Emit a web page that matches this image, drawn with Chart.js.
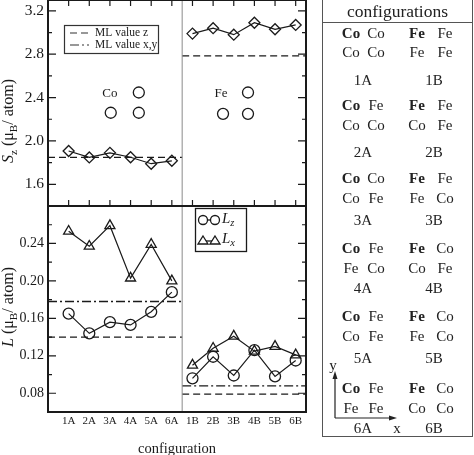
<!DOCTYPE html>
<html>
<head>
<meta charset="utf-8">
<script src="https://cdn.jsdelivr.net/npm/chart.js@4.4.0/dist/chart.umd.min.js"></script>
<style>
  body { margin: 0; background: #fff; }
  #wrap { position: relative; width: 474px; height: 455px; overflow: hidden; font-family: 'Liberation Serif', 'Times New Roman', serif; color: #222; }
  #wrap canvas { position: absolute; left: 0; }
  #top { top: -20px; }
  #bot { top: 0; }
  #cfg { position: absolute; left: 322px; top: -2px; width: 151px; height: 439px; border: 1.5px solid #555; box-sizing: border-box; }
  #cfg .hd { position: absolute; left: 0; right: 0; top: 0; height: 23px; border-bottom: 1.5px solid #555; text-align: center; font-size: 17.5px; line-height: 25px; }
  #cfg span { position: absolute; font-size: 15px; transform: translate(-50%, -50%); white-space: nowrap; }
  #cfg b { font-weight: bold; }
</style>
</head>
<body>
<div id="wrap">
  <canvas id="top" width="320" height="475"></canvas>
  <canvas id="bot" width="320" height="455"></canvas>
  <div id="cfg"><div class="hd">configurations</div></div>
</div>
<script>
// x positions of the configurations, 1A..6A then 1B..6B
const catLabels = ['1A', '2A', '3A', '4A', '5A', '6A', '1B', '2B', '3B', '4B', '5B', '6B'];
const coPos = [1, 2, 3, 4, 5, 6];
const fePos = [7, 8, 9, 10, 11, 12];
const coSpan = [0, 6.5];
const feSpan = [6.5, 12.5];

// spin moment S_z
const szCo = [1.907, 1.848, 1.890, 1.850, 1.790, 1.817];
const szFe = [2.990, 3.040, 2.980, 3.090, 3.030, 3.070];
const szMLz = [1.848, 2.785];   // Co, Fe monolayer
const szTicks = [1.6, 2.0, 2.4, 2.8, 3.2];

// orbital moment L
const lzCo = [0.165, 0.144, 0.156, 0.153, 0.167, 0.188];
const lxCo = [0.253, 0.237, 0.259, 0.203, 0.239, 0.200];
const lzFe = [0.096, 0.119, 0.099, 0.126, 0.098, 0.115];
const lxFe = [0.110, 0.128, 0.141, 0.125, 0.130, 0.121];
const lMLz = [0.140, 0.079];
const lMLxy = [0.178, 0.088];
const lTicks = [0.08, 0.12, 0.16, 0.20, 0.24];

// little site pictograms in the upper panel
const coSiteX = [4.40, 3.04, 4.40];
const coSiteY = [2.447, 2.26, 2.26];
const feSiteX = [9.69, 8.48, 9.69];
const feSiteY = [2.447, 2.25, 2.25];

// configuration table
const cfgA = [['Co','Co','Co','Co'], ['Co','Fe','Co','Co'], ['Co','Co','Co','Fe'], ['Co','Fe','Fe','Co'], ['Co','Fe','Co','Fe'], ['Co','Fe','Fe','Fe']];
const cfgB = [['Fe','Fe','Fe','Fe'], ['Fe','Fe','Co','Fe'], ['Fe','Fe','Fe','Co'], ['Fe','Co','Co','Fe'], ['Fe','Co','Fe','Co'], ['Fe','Co','Co','Co']];

const FONT = "'Liberation Serif', 'Times New Roman', serif";
const INK = '#1a1a1a';

function pts(xs, ys) { return xs.map((x, i) => ({ x: x, y: ys[i] })); }
function hline(span, v) { return span.map(x => ({ x: x, y: v })); }

function series(xs, ys, style, r) {
  return {
    data: pts(xs, ys), borderColor: INK, borderWidth: 1.2, pointStyle: style, pointRadius: r,
    pointBorderColor: INK, pointBackgroundColor: 'rgba(255,255,255,0)', pointBorderWidth: 1.3, tension: 0
  };
}
function mlLine(span, v, dash) {
  return { data: hline(span, v), borderColor: INK, borderWidth: 1.3, borderDash: dash, pointRadius: 0 };
}
const DASH = [7, 4];
const DASHDOT = [9, 3, 2, 3];

// rich text: parts [{t, it, sub}]
function richWidth(ctx, parts, size) {
  let w = 0;
  parts.forEach(p => {
    ctx.font = (p.it ? 'italic ' : '') + (p.sub ? size * 0.7 : size) + 'px ' + FONT;
    w += ctx.measureText(p.t).width;
  });
  return w;
}
function drawRich(ctx, parts, x, y, size) {
  let cx = x;
  parts.forEach(p => {
    const s = p.sub ? size * 0.7 : size;
    ctx.font = (p.it ? 'italic ' : '') + s + 'px ' + FONT;
    ctx.fillText(p.t, cx, y + (p.sub ? size * 0.3 : 0));
    cx += ctx.measureText(p.t).width;
  });
}

// frame, inward ticks, divider and extra text drawn on top of each panel
const panelPlugin = {
  id: 'panel',
  afterDatasetsDraw(chart, args, opts) {
    const { ctx, chartArea: a, scales: { x, y } } = chart;
    ctx.save();
    // divider between Co and Fe halves
    ctx.strokeStyle = '#8a8a8a';
    ctx.lineWidth = 1;
    const dx = x.getPixelForValue(coSpan[1]);
    ctx.beginPath(); ctx.moveTo(dx, a.top); ctx.lineTo(dx, a.bottom); ctx.stroke();

    ctx.strokeStyle = INK;
    ctx.lineWidth = 1.2;
    ctx.beginPath();
    const major = opts.ticks;
    const step = major[1] - major[0];
    const minor = [major[0] - step / 2].concat(major.map(v => v + step / 2));
    major.forEach(v => {
      const py = y.getPixelForValue(v);
      ctx.moveTo(a.left, py); ctx.lineTo(a.left + 8, py);
      ctx.moveTo(a.right, py); ctx.lineTo(a.right - 8, py);
    });
    minor.forEach(v => {
      if (v <= y.min || v >= y.max) return;
      const py = y.getPixelForValue(v);
      ctx.moveTo(a.left, py); ctx.lineTo(a.left + 4, py);
      ctx.moveTo(a.right, py); ctx.lineTo(a.right - 4, py);
    });
    if (opts.catTicks) {
      coPos.concat(fePos).forEach(v => {
        const px = x.getPixelForValue(v);
        ctx.moveTo(px, a.top); ctx.lineTo(px, a.top + 6);
        ctx.moveTo(px, a.bottom); ctx.lineTo(px, a.bottom - 6);
      });
    }
    ctx.stroke();
    ctx.lineWidth = 2;
    ctx.strokeRect(a.left, a.top, a.right - a.left, a.bottom - a.top);

    // y title, rotated
    ctx.fillStyle = INK;
    ctx.textBaseline = 'middle';
    ctx.textAlign = 'left';
    const w = richWidth(ctx, opts.title, 16);
    ctx.translate(opts.titleX, opts.titleY);
    ctx.rotate(-Math.PI / 2);
    drawRich(ctx, opts.title, -w / 2, 0, 16);
    ctx.restore();

    if (opts.extra) opts.extra(chart);
  }
};

function baseOptions(yMin, yMax, ticks, tickSize, padTop, padBottom, showX) {
  return {
    responsive: false, animation: false, events: [],
    layout: { padding: { left: 0, right: 14, top: padTop, bottom: padBottom } },
    plugins: { legend: { display: false }, tooltip: { enabled: false } },
    scales: {
      x: {
        type: 'linear', min: 0, max: 12.5, display: showX,
        afterBuildTicks: s => { s.ticks = coPos.concat(fePos).map(v => ({ value: v })); },
        afterFit: s => { if (showX) s.height = 43; },
        ticks: { callback: v => catLabels[v - 1], font: { family: FONT, size: 11 }, color: INK, padding: 3, maxRotation: 0, autoSkip: false },
        grid: { display: false, drawTicks: false }, border: { display: false },
        title: { display: true, text: 'configuration', font: { family: FONT, size: 14.5 }, color: INK, padding: { top: 0, bottom: -3 } }
      },
      y: {
        min: yMin, max: yMax,
        afterBuildTicks: s => { s.ticks = ticks.map(v => ({ value: v })); },
        afterFit: s => { s.width = 48; },
        ticks: { font: { family: FONT, size: tickSize }, color: INK, padding: 4, callback: v => v.toFixed(ticks[0] < 1 ? 2 : 1) },
        grid: { display: false, drawTicks: false }, border: { display: false }
      }
    }
  };
}

// ---------- upper panel: S_z (canvas shifted up 20px) ----------
const OFF = 20;
const topOpts = baseOptions(1.4, 3.3, szTicks, 15.5, OFF, 475 - 206 - OFF, false);
topOpts.plugins.panel = {
  ticks: szTicks, catTicks: true, titleX: 9, titleY: 121 + OFF,
  title: [{ t: 'S', it: true }, { t: 'z', sub: true }, { t: ' (μ' }, { t: 'B', sub: true }, { t: '/ atom)' }],
  extra(chart) {
    const { ctx, scales: { x, y } } = chart;
    ctx.save();
    ctx.fillStyle = INK;
    ctx.font = '13px ' + FONT;
    ctx.textAlign = 'center';
    ctx.textBaseline = 'middle';
    ctx.fillText('Co', x.getPixelForValue(3.0), y.getPixelForValue(2.44));
    ctx.fillText('Fe', x.getPixelForValue(8.38), y.getPixelForValue(2.44));
    // legend box
    ctx.translate(0, OFF);
    ctx.strokeStyle = '#333';
    ctx.lineWidth = 1.2;
    ctx.strokeRect(64.5, 25.5, 94, 28);
    ctx.beginPath(); ctx.setLineDash(DASH); ctx.moveTo(70, 33); ctx.lineTo(89, 33); ctx.stroke();
    ctx.beginPath(); ctx.setLineDash(DASHDOT); ctx.moveTo(70, 45); ctx.lineTo(89, 45); ctx.stroke();
    ctx.setLineDash([]);
    ctx.font = '11.5px ' + FONT;
    ctx.textAlign = 'left';
    ctx.fillText('ML value z', 95, 33);
    ctx.fillText('ML value x,y', 95, 45);
    ctx.restore();
  }
};
new Chart(document.getElementById('top'), {
  type: 'line',
  data: {
    datasets: [
      series(coPos, szCo, 'rectRot', 5.5),
      series(fePos, szFe, 'rectRot', 5.5),
      mlLine(coSpan, szMLz[0], DASH),
      mlLine(feSpan, szMLz[1], DASH),
      Object.assign(series(coSiteX, coSiteY, 'circle', 5.5), { showLine: false }),
      Object.assign(series(feSiteX, feSiteY, 'circle', 5.5), { showLine: false })
    ]
  },
  options: topOpts,
  plugins: [panelPlugin]
});

// ---------- lower panel: L ----------
const botOpts = baseOptions(0.06, 0.28, lTicks, 14, 206, 0, true);
botOpts.plugins.panel = {
  ticks: lTicks, catTicks: false, titleX: 9, titleY: 307,
  title: [{ t: 'L', it: true }, { t: ' (μ' }, { t: 'B', sub: true }, { t: '/ atom)' }],
  extra(chart) {
    const { ctx } = chart;
    ctx.save();
    ctx.strokeStyle = INK;
    ctx.fillStyle = INK;
    ctx.lineWidth = 1.3;
    ctx.strokeRect(195.5, 208.5, 51, 43);
    // L_z sample
    ctx.beginPath(); ctx.moveTo(203, 220); ctx.lineTo(215, 220); ctx.stroke();
    [203, 215].forEach(cx => {
      ctx.beginPath(); ctx.fillStyle = '#fff'; ctx.arc(cx, 220, 4.5, 0, Math.PI * 2); ctx.fill(); ctx.stroke();
    });
    // L_x sample
    ctx.beginPath(); ctx.moveTo(203, 241); ctx.lineTo(215, 241); ctx.stroke();
    [203, 215].forEach(cx => {
      ctx.beginPath(); ctx.fillStyle = '#fff';
      ctx.moveTo(cx, 236); ctx.lineTo(cx + 5, 244); ctx.lineTo(cx - 5, 244); ctx.closePath(); ctx.fill(); ctx.stroke();
    });
    ctx.fillStyle = INK;
    ctx.textBaseline = 'middle';
    ctx.textAlign = 'left';
    drawRich(ctx, [{ t: 'L', it: true }, { t: 'z', it: true, sub: true }], 222, 219, 15);
    drawRich(ctx, [{ t: 'L', it: true }, { t: 'x', it: true, sub: true }], 222, 239, 15);
    ctx.restore();
  }
};
new Chart(document.getElementById('bot'), {
  type: 'line',
  data: {
    datasets: [
      mlLine(coSpan, lMLz[0], DASH),
      mlLine(coSpan, lMLxy[0], DASHDOT),
      mlLine(feSpan, lMLz[1], DASH),
      mlLine(feSpan, lMLxy[1], DASHDOT),
      series(coPos, lxCo, 'triangle', 5.8),
      series(coPos, lzCo, 'circle', 5.5),
      series(fePos, lxFe, 'triangle', 5.8),
      series(fePos, lzFe, 'circle', 5.5)
    ]
  },
  options: botOpts,
  plugins: [panelPlugin]
});

// ---------- configuration table ----------
const cfgRow1 = [32, 104, 177, 247, 315, 387];
const cfgRow2 = [51, 124, 197, 267, 335, 407];
const cfgName = [79, 151, 219, 287, 357, 427];
const box = document.getElementById('cfg');
function put(text, x, y, bold) {
  const s = document.createElement('span');
  s.style.left = (x - 322) + 'px';
  s.style.top = (y + 2) + 'px';
  if (bold) { const b = document.createElement('b'); b.textContent = text; s.appendChild(b); }
  else s.textContent = text;
  box.appendChild(s);
}
cfgA.forEach((c, i) => {
  put(c[0], 350, cfgRow1[i], true); put(c[1], 375, cfgRow1[i]);
  put(c[2], 350, cfgRow2[i]); put(c[3], 375, cfgRow2[i]);
  put(catLabels[i], 362, cfgName[i]);
});
cfgB.forEach((c, i) => {
  put(c[0], 416, cfgRow1[i], true); put(c[1], 444, cfgRow1[i]);
  put(c[2], 416, cfgRow2[i]); put(c[3], 444, cfgRow2[i]);
  put(catLabels[i + 6], 433, cfgName[i]);
});
put('y', 332, 364);
put('x', 396, 427);
// coordinate arrows
const svgNS = 'http://www.w3.org/2000/svg';
const svg = document.createElementNS(svgNS, 'svg');
svg.setAttribute('width', '150'); svg.setAttribute('height', '440');
svg.style.position = 'absolute'; svg.style.left = '0'; svg.style.top = '0';
svg.innerHTML = '<path d="M12 419 L12 378 M12 419 L68 419" stroke="#222" stroke-width="1.2" fill="none"/>' +
  '<path d="M12 372 L9.5 380 L14.5 380 Z M74 419 L66 416.5 L66 421.5 Z" fill="#222"/>';
box.appendChild(svg);
</script>
</body>
</html>
